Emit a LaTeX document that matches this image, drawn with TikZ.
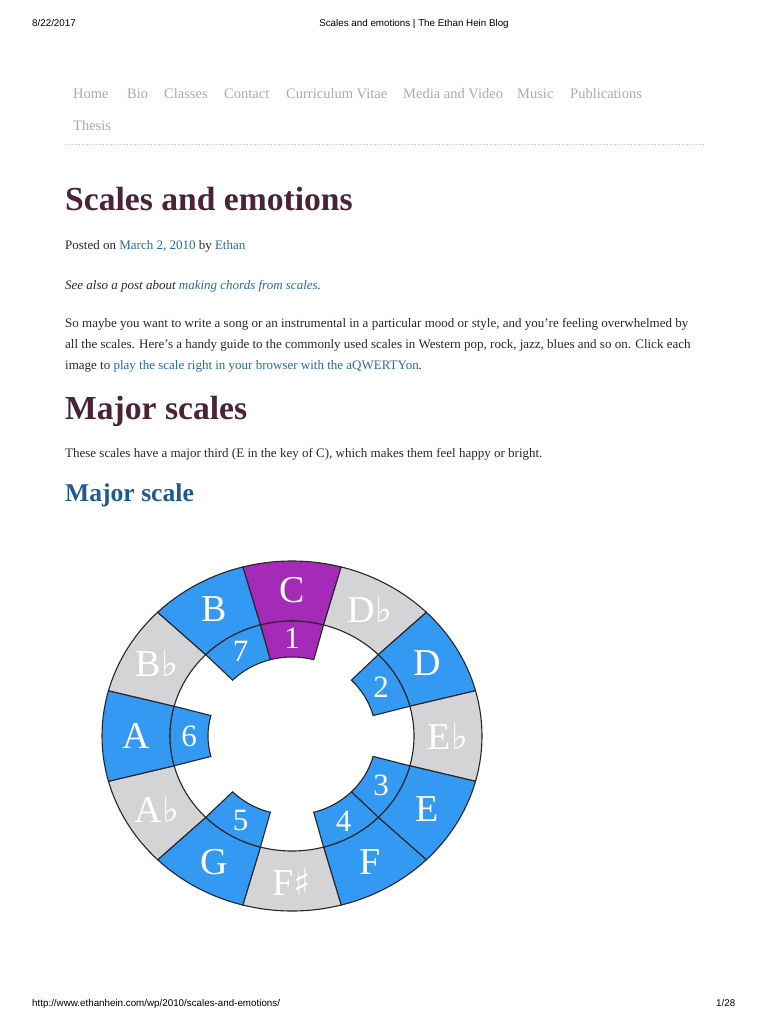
\documentclass[tikz,border=0pt]{standalone}
\usepackage{fontspec}
\setmainfont{Liberation Serif}
\newfontfamily\headfont{Liberation Sans}
\newfontfamily\symfont{DejaVu Sans}
\definecolor{titlered}{HTML}{4A2337}
\definecolor{linkblue}{HTML}{2B6AA1}
\definecolor{headblue}{HTML}{1F5A92}
\definecolor{navgray}{HTML}{ABABAB}
\definecolor{bodygray}{HTML}{2A2A2A}
\definecolor{keyblue}{HTML}{3399F3}
\definecolor{keypurple}{HTML}{A52AB8}
\definecolor{keygray}{HTML}{D4D4D6}
\definecolor{segline}{HTML}{262626}
\newcommand{\mflat}{{\symfont\fontsize{36}{36}\selectfont ♭}}
\newcommand{\msharp}{{\symfont\fontsize{36}{36}\selectfont ♯}}
\begin{document}
\begin{tikzpicture}[x=1pt, y=1pt,
    pagetext/.style={anchor=base west,inner sep=0pt,text=bodygray,font=\fontsize{13}{15}\selectfont},
    smallprint/.style={anchor=base west,inner sep=0pt,text=black,font=\headfont\fontsize{9.8}{11}\selectfont},
    navitem/.style={anchor=base west,inner sep=0pt,text=navgray,font=\fontsize{14.5}{17}\selectfont},
    bighead/.style={anchor=base west,inner sep=0pt,text=titlered,font=\bfseries\fontsize{33.6}{38}\selectfont},
    subhead/.style={anchor=base west,inner sep=0pt,text=headblue,font=\bfseries\fontsize{25.6}{30}\selectfont},
    segment/.style={draw=segline,line width=1.1pt},
    notelabel/.style={text=white,inner sep=0pt,font=\fontsize{38}{38}\selectfont},
    steplabel/.style={text=white,inner sep=0pt,font=\fontsize{31}{31}\selectfont} ]
    \useasboundingbox (0,0) rectangle (768,-1024);
    \fill [white] (0,0) rectangle (768,-1024);
    % page header and footer
    \node at (32,-27) [smallprint] (date) {8/22/2017};
    \node at (414,-27) [smallprint,anchor=base] (pagetitle) {Scales and emotions | The Ethan Hein Blog};
    \node at (32,-1006) [smallprint] (url) {http://www.ethanhein.com/wp/2010/scales-and-emotions/};
    \node at (716,-1006) [smallprint] (pageno) {1/28};
    % menu
    \node at (73,-99) [navitem] (home) {Home};
    \node at (127,-99) [navitem] (bio) {Bio};
    \node at (164,-99) [navitem] (classes) {Classes};
    \node at (224,-99) [navitem] (contact) {Contact};
    \node at (286,-99) [navitem] (cv) {Curriculum Vitae};
    \node at (403,-99) [navitem] (media) {Media and Video};
    \node at (517,-99) [navitem] (music) {Music};
    \node at (570,-99) [navitem] (pubs) {Publications};
    \node at (73,-131) [navitem] (thesis) {Thesis};
    \coordinate (rule1) at (65,-144);
    \coordinate (rule2) at (704,-144);
    \draw [dotted, navgray!70] (rule1) -- (rule2);
    % post
    \node at (65,-211) [bighead] (title) {Scales and emotions};
    \node at (65,-249) [pagetext] (posted) {Posted on \textcolor{linkblue}{March 2, 2010} by \textcolor{linkblue}{Ethan}};
    \node at (65,-289) [pagetext] (seealso) {\itshape See also a post about \textcolor{linkblue}{making chords from scales}.};
    \node at (65,-327) [pagetext] (para1) {So maybe you want to write a song or an instrumental in a particular mood or style, and you’re feeling overwhelmed by};
    \node at (65,-348) [pagetext] (para2) {all the scales. Here’s a handy guide to the commonly used scales in Western pop, rock, jazz, blues and so on. Click each};
    \node at (65,-369) [pagetext] (para3) {image to \textcolor{linkblue}{play the scale right in your browser with the aQWERTYon}.};
    \node at (65,-419) [bighead] (majors) {Major scales};
    \node at (65,-457) [pagetext] (majtext) {These scales have a major third (E in the key of C), which makes them feel happy or bright.};
    \node at (65,-501) [subhead] (majscale) {Major scale};
    % the wheel
    \begin{scope}[shift={(292,-736)}]
    \foreach \a/\col in {90/keypurple,60/keygray,30/keyblue,0/keygray,-30/keyblue,-60/keyblue,
        -90/keygray,-120/keyblue,-150/keygray,180/keyblue,150/keygray,120/keyblue}
      \filldraw [segment,fill=\col] (\a-15:122 and 115)
        arc [start angle=\a-15,end angle=\a+15,x radius=122pt,y radius=115pt]
        -- (\a+15:190 and 175)
        arc [start angle=\a+15,end angle=\a-15,x radius=190pt,y radius=175pt] -- cycle;
    \foreach \a/\col in {90/keypurple,30/keyblue,-30/keyblue,-60/keyblue,-120/keyblue,180/keyblue,120/keyblue}
      \filldraw [segment,fill=\col] (\a-15:84 and 79)
        arc [start angle=\a-15,end angle=\a+15,x radius=84pt,y radius=79pt]
        -- (\a+15:122 and 115)
        arc [start angle=\a+15,end angle=\a-15,x radius=122pt,y radius=115pt] -- cycle;
    \foreach \a/\nm/\lab in {90/C/C,60/Db/D\mflat,30/D/D,0/Eb/E\mflat,-30/E/E,-60/F/F,
        -90/Fs/F\msharp,-120/G/G,-150/Ab/A\mflat,180/A/A,150/Bb/B\mflat,120/B/B}
      \node at (\a:156 and 146) [notelabel] (note\nm) {\lab};
    \foreach \a/\n in {90/1,30/2,-30/3,-60/4,-120/5,180/6,120/7}
      \node at (\a:103 and 98) [steplabel] (step\n) {\n};
    \end{scope}
\end{tikzpicture}
\end{document}
